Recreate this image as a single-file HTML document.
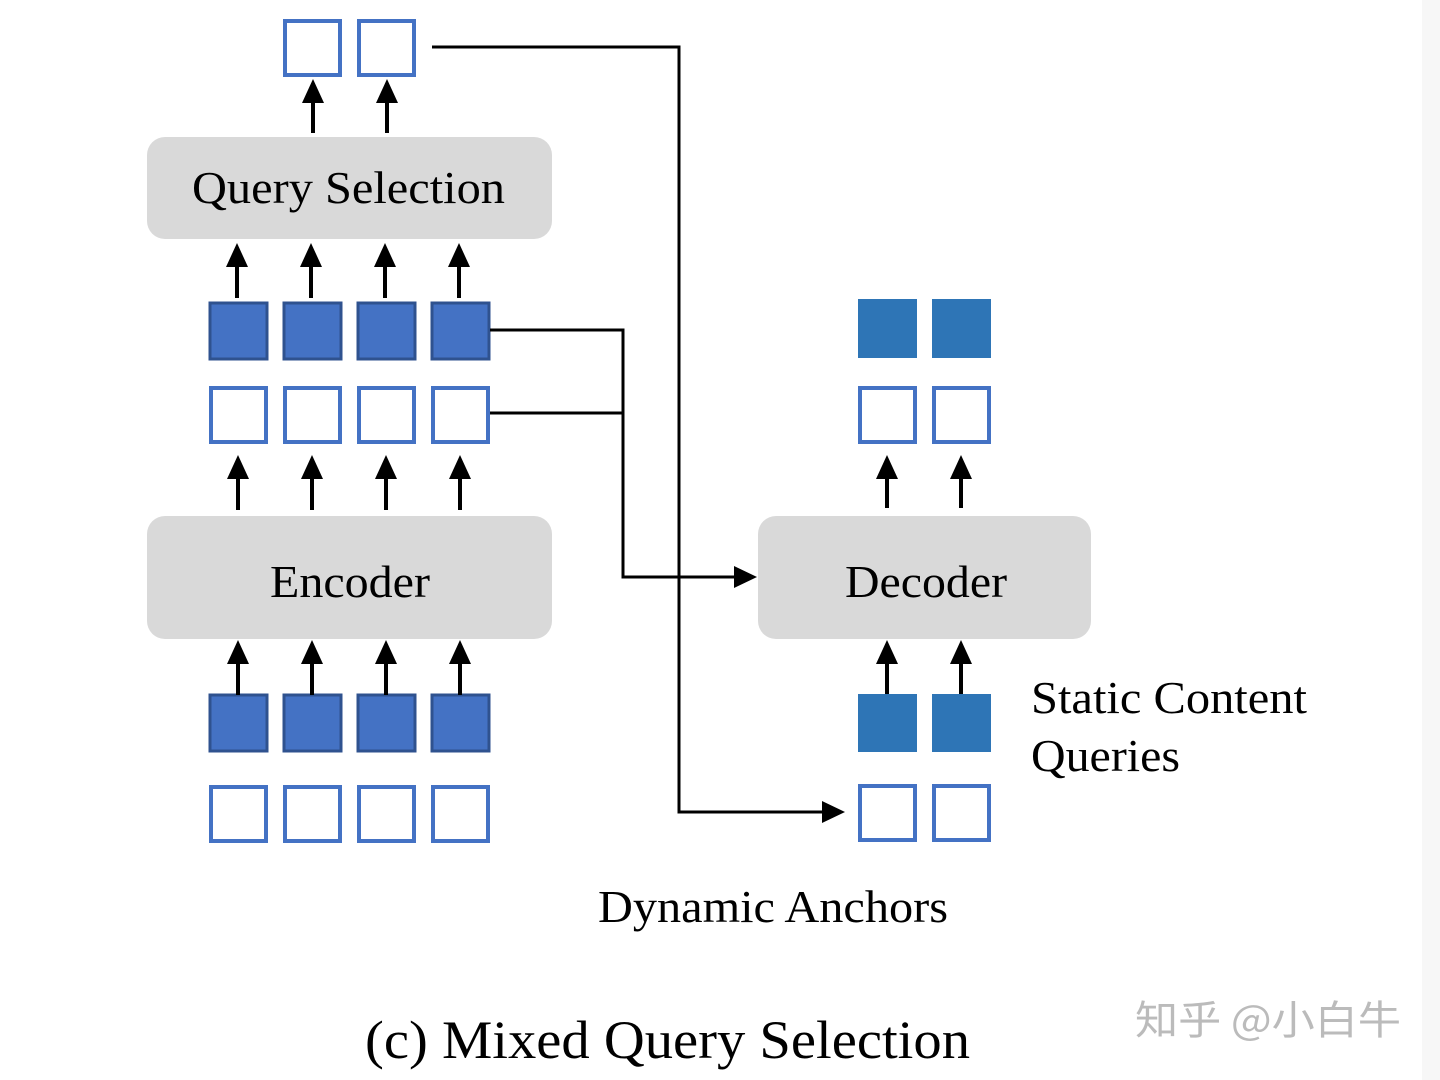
<!DOCTYPE html>
<html><head><meta charset="utf-8"><style>html,body{margin:0;padding:0;background:#fff;width:1440px;height:1080px;overflow:hidden}</style></head>
<body>
<svg width="1440" height="1080" viewBox="0 0 1440 1080" xmlns="http://www.w3.org/2000/svg">
<defs>
<path id="hd" d="M-11,24 L0,0 L11,24 z" fill="#000"/>
</defs>
<rect x="1422" y="0" width="18" height="1080" fill="#f7f7f7"/>
<g font-family="Liberation Serif, serif" fill="#000">
<rect x="147" y="137" width="405" height="102" rx="18" fill="#d9d9d9"/>
<rect x="147" y="516" width="405" height="123" rx="18" fill="#d9d9d9"/>
<rect x="758" y="516" width="333" height="123" rx="18" fill="#d9d9d9"/>
<text x="192" y="203" font-size="46" textLength="313" lengthAdjust="spacingAndGlyphs">Query Selection</text>
<text x="270" y="597" font-size="46" textLength="160" lengthAdjust="spacingAndGlyphs">Encoder</text>
<text x="845" y="597" font-size="46" textLength="162" lengthAdjust="spacingAndGlyphs">Decoder</text>
<text x="1031" y="713" font-size="46" textLength="276" lengthAdjust="spacingAndGlyphs">Static Content</text>
<text x="1031" y="771" font-size="46" textLength="149" lengthAdjust="spacingAndGlyphs">Queries</text>
<text x="598" y="922" font-size="46" textLength="350" lengthAdjust="spacingAndGlyphs">Dynamic Anchors</text>
<text x="365" y="1058" font-size="54" textLength="605" lengthAdjust="spacingAndGlyphs">(c) Mixed Query Selection</text>
</g>
<text x="1135" y="1034" font-family="Noto Sans CJK SC, sans-serif" font-size="40" fill="#bbb" textLength="266" lengthAdjust="spacingAndGlyphs">知乎 @小白牛</text>
<g fill="#fff" stroke="#4472c4" stroke-width="4">
<rect x="285" y="21" width="55" height="54"/><rect x="359" y="21" width="55" height="54"/>
<rect x="211" y="388" width="55" height="54"/><rect x="285" y="388" width="55" height="54"/><rect x="359" y="388" width="55" height="54"/><rect x="433" y="388" width="55" height="54"/>
<rect x="211" y="787" width="55" height="54"/><rect x="285" y="787" width="55" height="54"/><rect x="359" y="787" width="55" height="54"/><rect x="433" y="787" width="55" height="54"/>
<rect x="860" y="388" width="55" height="54"/><rect x="934" y="388" width="55" height="54"/>
<rect x="860" y="786" width="55" height="54"/><rect x="934" y="786" width="55" height="54"/>
</g>
<g fill="#4472c4" stroke="#2f528f" stroke-width="3">
<rect x="210" y="303" width="57" height="56"/><rect x="284" y="303" width="57" height="56"/><rect x="358" y="303" width="57" height="56"/><rect x="432" y="303" width="57" height="56"/>
<rect x="210" y="695" width="57" height="56"/><rect x="284" y="695" width="57" height="56"/><rect x="358" y="695" width="57" height="56"/><rect x="432" y="695" width="57" height="56"/>
</g>
<g fill="#2e75b6">
<rect x="858" y="299" width="59" height="59"/><rect x="932" y="299" width="59" height="59"/>
<rect x="858" y="694" width="59" height="58"/><rect x="932" y="694" width="59" height="58"/>
</g>
<g stroke="#000" stroke-width="4">
<line x1="313" y1="133" x2="313" y2="100"/><line x1="387" y1="133" x2="387" y2="100"/>
<line x1="237" y1="298" x2="237" y2="263"/><line x1="311" y1="298" x2="311" y2="263"/><line x1="385" y1="298" x2="385" y2="263"/><line x1="459" y1="298" x2="459" y2="263"/>
<line x1="238" y1="510" x2="238" y2="475"/><line x1="312" y1="510" x2="312" y2="475"/><line x1="386" y1="510" x2="386" y2="475"/><line x1="460" y1="510" x2="460" y2="475"/>
<line x1="238" y1="695" x2="238" y2="660"/><line x1="312" y1="695" x2="312" y2="660"/><line x1="386" y1="695" x2="386" y2="660"/><line x1="460" y1="695" x2="460" y2="660"/>
<line x1="887" y1="508" x2="887" y2="475"/><line x1="961" y1="508" x2="961" y2="475"/>
<line x1="887" y1="694" x2="887" y2="660"/><line x1="961" y1="694" x2="961" y2="660"/>
</g>
<use href="#hd" x="313" y="79"/><use href="#hd" x="387" y="79"/>
<use href="#hd" x="237" y="243"/><use href="#hd" x="311" y="243"/><use href="#hd" x="385" y="243"/><use href="#hd" x="459" y="243"/>
<use href="#hd" x="238" y="455"/><use href="#hd" x="312" y="455"/><use href="#hd" x="386" y="455"/><use href="#hd" x="460" y="455"/>
<use href="#hd" x="238" y="640"/><use href="#hd" x="312" y="640"/><use href="#hd" x="386" y="640"/><use href="#hd" x="460" y="640"/>
<use href="#hd" x="887" y="455"/><use href="#hd" x="961" y="455"/>
<use href="#hd" x="887" y="640"/><use href="#hd" x="961" y="640"/>
<g fill="none" stroke="#000" stroke-width="3">
<polyline points="490,330 623,330 623,577 740,577"/>
<line x1="490" y1="413" x2="623" y2="413"/>
<polyline points="432,47 679,47 679,812 828,812"/>
</g>
<path d="M734,566 L757,577 L734,588 z" fill="#000"/>
<path d="M822,801 L845,812 L822,823 z" fill="#000"/>
</svg>
</body></html>
